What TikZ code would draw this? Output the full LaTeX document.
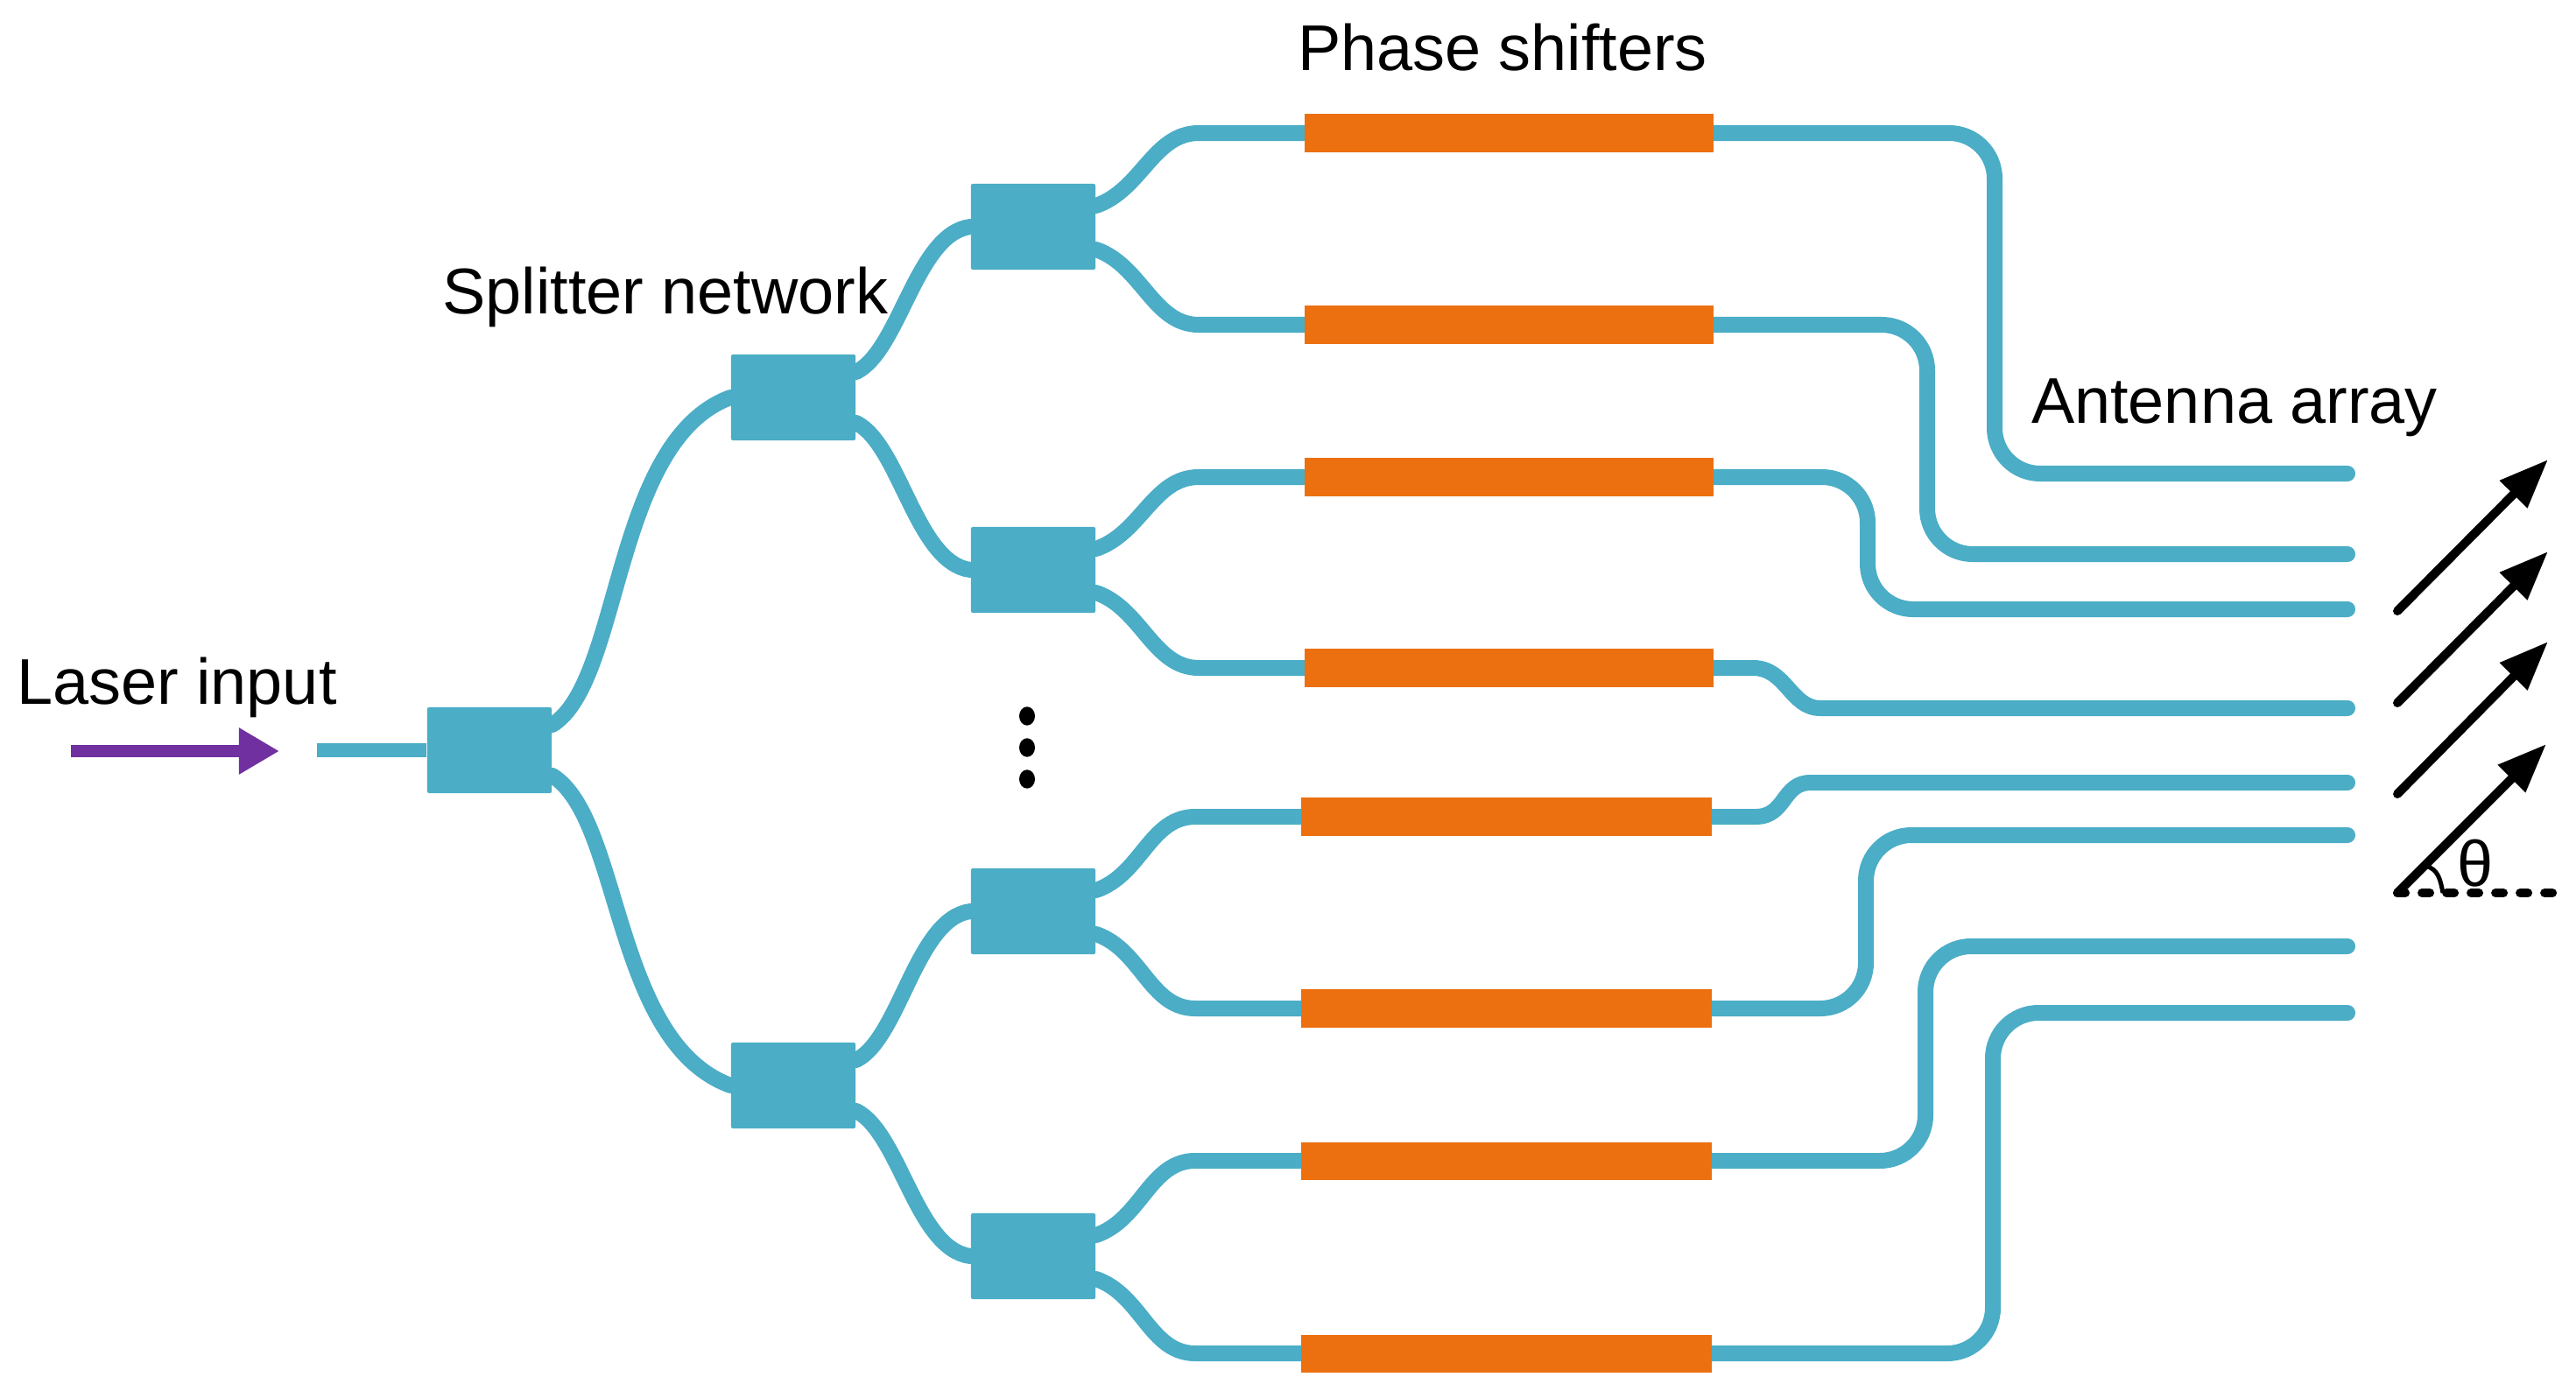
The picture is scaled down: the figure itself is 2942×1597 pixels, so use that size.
\documentclass[tikz,border=0pt]{standalone}
\usepackage{fontspec}
\setmainfont{Liberation Sans}
\usetikzlibrary{arrows.meta,backgrounds}
\definecolor{guide}{HTML}{4BADC6}
\definecolor{shifter}{HTML}{EC7010}
\definecolor{laser}{HTML}{7030A0}
\tikzset{
	splitbox/.style={fill=guide, rounded corners=.02cm, inner sep=0pt, minimum width=1.42cm, minimum height=.98cm},
	phasebar/.style={fill=shifter, inner sep=0pt, minimum height=.43cm},
	wg/.style={draw=guide, line width=.18cm, line cap=round},
	lbl/.style={anchor=base, font=\fontsize{21}{25}\selectfont, inner sep=0pt},
	beam/.style={line width=.1cm, line cap=round, -{Triangle[length=.56cm,width=.42cm]}}
}
\begin{document}
\begin{tikzpicture}[x=.01cm, y=-.01cm, line join=round]
	\useasboundingbox (0,0) rectangle (2942,1597);
	
	\node[splitbox] (S0) at (559,857) {};
	\node[splitbox] (S1) at (906,454) {};
	\node[splitbox] (S2) at (906,1240) {};
	\foreach \n/\y in {a/259,b/651,c/1041,d/1435}
	\node[splitbox] (T\n) at (1180,\y) {};
	
	\foreach \i/\y in {1/152,2/371,3/545,4/763}
	\node[phasebar, minimum width=4.67cm] (P\i) at (1723.5,\y) {};
	\foreach \i/\y in {5/933,6/1152,7/1326,8/1546}
	\node[phasebar, minimum width=4.69cm] (P\i) at (1720.5,\y) {};
	
	\foreach \i/\y in {1/541,2/633,3/696,4/809,5/894,6/954,7/1081,8/1157}
	\path (2681,\y) coordinate (E\i);
	
	\foreach \x in {S0,S1,S2} {
		\path (\x.east)+(0,-29) coordinate (\x u);
		\path (\x.east)+(0,29) coordinate (\x v);
	}
	\foreach \x in {a,b,c,d} {
		\path (T\x.east)+(0,-24) coordinate (T\x u);
		\path (T\x.east)+(0,26) coordinate (T\x v);
	}
	
	\begin{scope}[on background layer]
		\draw[wg, line cap=butt, line width=.165cm] (362,857)--(S0.west);
		% first two levels of the tree
		\draw[wg] (S0u) .. controls +(80,-50) and +(-135,50) .. (S1.west);
		\draw[wg] (S0v) .. controls +(80,50) and +(-135,-50) .. (S2.west);
		\foreach \x/\p/\q in {S1/a/b,S2/c/d} {
			\draw[wg] (\x u) .. controls +(50,-25) and +(-62,8) .. (T\p.west);
			\draw[wg] (\x v) .. controls +(50,25) and +(-62,-8) .. (T\q.west);
		}
		% into the bars
		\foreach \x/\i/\j in {a/1/2,b/3/4,c/5/6,d/7/8} {
			\path (P\i.west)+(-120,0) coordinate (Q\i) (P\j.west)+(-120,0) coordinate (Q\j);
			\draw[wg] (T\x u) .. controls +(52,-18) and +(-52,0) .. (Q\i)--(P\i.west);
			\draw[wg] (T\x v) .. controls +(52,18) and +(-52,0) .. (Q\j)--(P\j.west);
		}
		% out to the array
		\foreach \i/\v/\y in {1/2278/541,2/2201/633,3/2133/696,6/2131/954,7/2199/1081,8/2276/1157}
		\draw[wg, rounded corners=.52cm] (P\i.east) -| (\v,\y) -- (E\i);
		\draw[wg] (P4.east)--(2002,763) .. controls (2040,763) and (2045,809) .. (2079,809)--(E4);
		\draw[wg] (P5.east)--(2005,933) .. controls (2040,933) and (2035,894) .. (2068,894)--(E5);
	\end{scope}
	
	\foreach \y in {818,854,890}
	\fill (1173,\y) ellipse (9 and 10.7);
	
	\path (81,858) coordinate (L1) (319,858) coordinate (L2);
	\draw[laser, line width=.14cm, -{Triangle[length=.46cm,width=.5cm]}] (L1)--(L2);
	
	\foreach \i/\y/\t in {1/698/525,2/803/630,3/907/733}
	\draw[beam] (2738,\y) coordinate (A\i) -- (2910,\t);
	\path (2738,1020) coordinate (A4) (2908,850) coordinate (B4) (2918,1020) coordinate (D4);
	\draw[beam] (A4)--(B4);
	\draw[line width=.1cm, line cap=round, dash pattern=on .09cm off .19cm] (A4)--(D4);
	\draw[line width=.05cm] (2770,989) .. controls (2785,993) and (2787,1005) .. (2790,1020);
	
	\node[lbl] (laserlbl) at (202,804) {Laser input};
	\node[lbl] (splitlbl) at (760,358) {Splitter network};
	\node[lbl] (phaselbl) at (1716,81) {Phase shifters};
	\node[lbl] (antlbl) at (2552,483) {Antenna array};
	\node[anchor=center, font=\fontsize{21}{25}\selectfont, inner sep=0pt] (thetalbl) at (2827,986) {θ};
\end{tikzpicture}
\end{document}
